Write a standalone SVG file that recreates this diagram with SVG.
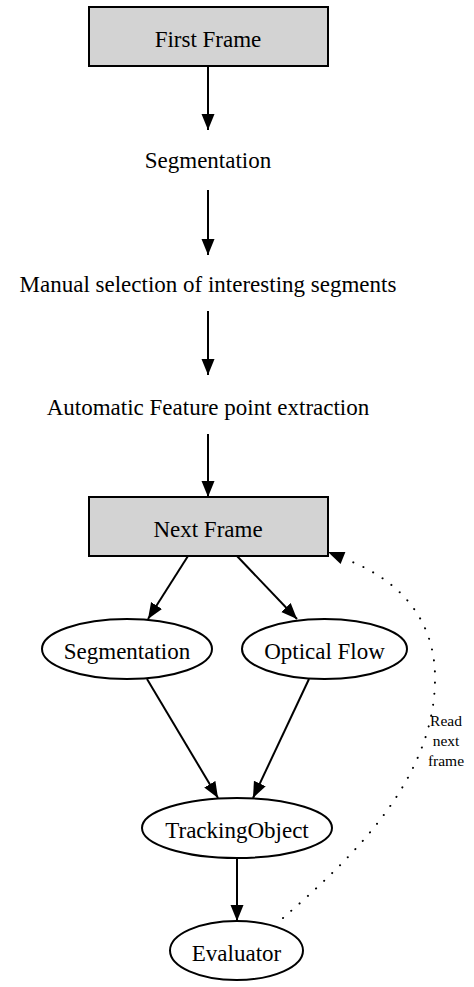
<svg xmlns="http://www.w3.org/2000/svg" width="474" height="987" viewBox="0 0 474 987">
<style>
text{font-family:"Liberation Serif","Times New Roman",serif;fill:#000;text-anchor:middle}
.n{font-size:23px}
.l{font-size:15.5px}
.box{fill:#d3d3d3;stroke:#000;stroke-width:2}
.ell{fill:#fff;stroke:#000;stroke-width:2}
.e{fill:none;stroke:#000;stroke-width:2}
.d{fill:none;stroke:#000;stroke-width:2;stroke-dasharray:0.1 11;stroke-linecap:round}
</style>
<defs>
<marker id="a" markerUnits="userSpaceOnUse" markerWidth="18" markerHeight="14" refX="16" refY="6.5" orient="auto" viewBox="0 0 18 13">
<path d="M0,0 L16,6.5 L0,13 Z" fill="#000"/>
</marker>
</defs>
<rect width="474" height="987" fill="#fff"/>
<g id="edges">
<line class="e" x1="208" y1="66" x2="208" y2="130" marker-end="url(#a)"/>
<line class="e" x1="208" y1="190" x2="208" y2="255" marker-end="url(#a)"/>
<line class="e" x1="208" y1="311" x2="208" y2="375" marker-end="url(#a)"/>
<line class="e" x1="208" y1="434" x2="208" y2="497" marker-end="url(#a)"/>
<line class="e" x1="188" y1="556" x2="148" y2="619" marker-end="url(#a)"/>
<line class="e" x1="237" y1="556" x2="297" y2="619" marker-end="url(#a)"/>
<line class="e" x1="147" y1="679" x2="218" y2="798" marker-end="url(#a)"/>
<line class="e" x1="309" y1="679" x2="253" y2="798" marker-end="url(#a)"/>
<line class="e" x1="237" y1="858" x2="237" y2="921" marker-end="url(#a)"/>
<path class="d" d="M283,918 C352,858 434,780 435,680 C436,622 402,582 350,561"/>
<path d="M328,552 L345.4,552 L340.6,564 Z" fill="#000"/>
<text class="l" x="446" y="726">Read</text>
<text class="l" x="446" y="746">next</text>
<text class="l" x="446" y="766">frame</text>
</g>
<g id="first-frame">
<rect class="box" x="89" y="7" width="239" height="59"/>
<text class="n" x="208" y="47">First Frame</text>
</g>
<g id="segmentation1">
<text class="n" x="208" y="168">Segmentation</text>
</g>
<g id="manual-selection">
<text class="n" x="208" y="292">Manual selection of interesting segments</text>
</g>
<g id="feature-extraction">
<text class="n" x="208" y="415">Automatic Feature point extraction</text>
</g>
<g id="next-frame">
<rect class="box" x="89" y="497" width="239" height="59"/>
<text class="n" x="208" y="537">Next Frame</text>
</g>
<g id="segmentation2">
<ellipse class="ell" cx="127" cy="649" rx="85" ry="30"/>
<text class="n" x="127" y="659">Segmentation</text>
</g>
<g id="optical-flow">
<ellipse class="ell" cx="324.5" cy="649" rx="82.5" ry="30"/>
<text class="n" x="324.5" y="659">Optical Flow</text>
</g>
<g id="tracking-object">
<ellipse class="ell" cx="237" cy="828" rx="95" ry="30"/>
<text class="n" x="237" y="838">TrackingObject</text>
</g>
<g id="evaluator">
<ellipse class="ell" cx="236.5" cy="950.5" rx="66.5" ry="29.5"/>
<text class="n" x="236.5" y="961">Evaluator</text>
</g>
</svg>
